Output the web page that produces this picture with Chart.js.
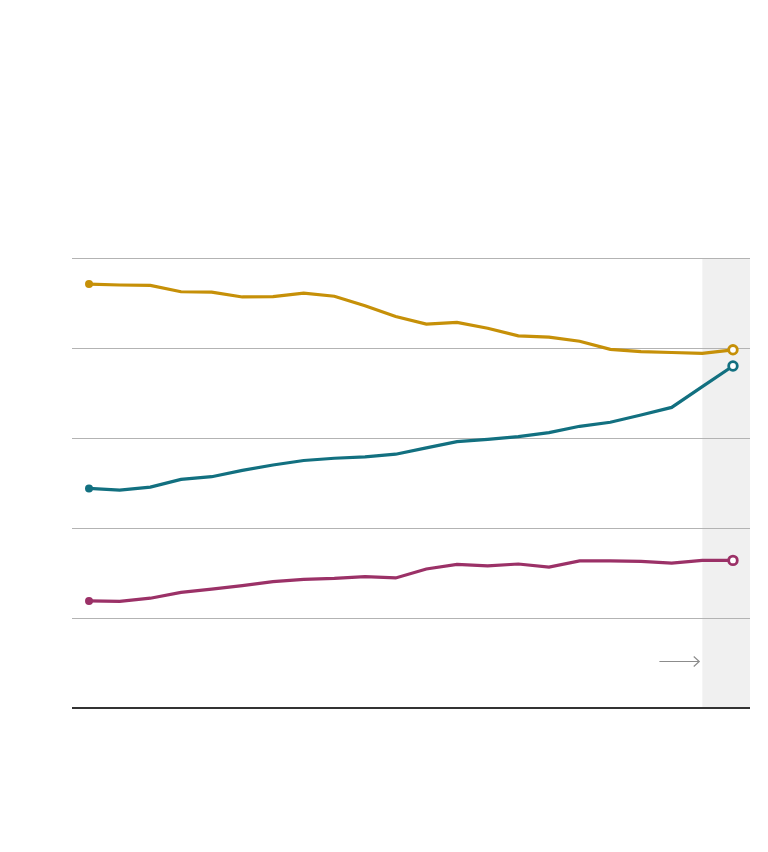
<!DOCTYPE html>
<html>
<head>
<meta charset="utf-8">
<script src="https://cdn.jsdelivr.net/npm/chart.js@4/dist/chart.umd.min.js"></script>
<style>
  html, body { margin: 0; padding: 0; background: #fff; }
  #wrap { width: 768px; height: 852px; position: relative; }
</style>
</head>
<body>
<div id="wrap"><canvas id="grafico"></canvas></div>
<script>
// Posiciones de los periodos (el último, sombreado, es la estimación)
const periodos = [0, 1, 2, 3, 4, 5, 6, 7, 8, 9, 10, 11, 12, 13, 14, 15, 16, 17, 18, 19, 20, 21];

// Valores
const serieOro = [47.1, 47.0, 46.95, 46.25, 46.2, 45.67, 45.7, 46.1, 45.75, 44.7, 43.5, 42.65, 42.85, 42.2, 41.35, 41.2, 40.75, 39.85, 39.6, 39.5, 39.4, 39.8];
const serieAzul = [24.4, 24.2, 24.55, 25.4, 25.7, 26.4, 27.0, 27.5, 27.75, 27.9, 28.2, 28.9, 29.6, 29.85, 30.15, 30.6, 31.3, 31.75, 32.55, 33.4, 35.7, 38.0];
const serieMagenta = [11.9, 11.85, 12.2, 12.85, 13.2, 13.6, 14.05, 14.3, 14.4, 14.6, 14.45, 15.45, 15.95, 15.8, 16.0, 15.65, 16.35, 16.35, 16.3, 16.1, 16.4, 16.4];

// Marcas del eje y (sólo líneas de cuadrícula, sin texto)
const marcasY = [0, 10, 20, 30, 40, 50];
const inicioEstimacion = 20;

const colores = {
    oro: 'rgb(198, 144, 8)',
    azul: 'rgb(18, 112, 128)',
    magenta: 'rgb(155, 49, 103)'
};

function crearSerie(valores, color) {
    const ultimo = valores.length - 1;
    return {
        data: valores.map((v, i) => ({ x: periodos[i], y: v })),
        borderColor: color,
        borderWidth: 3.2,
        tension: 0,
        pointRadius: valores.map((v, i) => i === 0 ? 4 : (i === ultimo ? 4.3 : 0)),
        pointBackgroundColor: valores.map((v, i) => i === ultimo ? '#ffffff' : color),
        pointBorderColor: color,
        pointBorderWidth: valores.map((v, i) => i === ultimo ? 2.8 : 0),
        pointHoverRadius: 0
    };
}

// Fondo sombreado, cuadrícula y flecha
const decoracion = {
    id: 'decoracion',
    beforeDatasetsDraw(chart) {
        const { ctx, chartArea, scales } = chart;
        const x = scales.x, y = scales.y;
        ctx.save();
        // franja de estimación
        const xBand = x.getPixelForValue(inicioEstimacion);
        ctx.fillStyle = '#f0f0f0';
        ctx.fillRect(xBand, chartArea.top, chartArea.right - xBand, chartArea.bottom - chartArea.top);
        // cuadrícula
        ctx.strokeStyle = '#b3b3b3';
        ctx.lineWidth = 1;
        marcasY.forEach(m => {
            if (m === 0) return;
            const py = Math.round(y.getPixelForValue(m)) + 0.5;
            ctx.beginPath();
            ctx.moveTo(chartArea.left, py);
            ctx.lineTo(chartArea.right, py);
            ctx.stroke();
        });
        // flecha
        const ay = Math.round(y.getPixelForValue(5.2)) + 0.5;
        const ax0 = x.getPixelForValue(18.6);
        const ax1 = x.getPixelForValue(19.9);
        ctx.strokeStyle = '#8c8c8c';
        ctx.lineWidth = 1.2;
        ctx.beginPath();
        ctx.moveTo(ax0, ay);
        ctx.lineTo(ax1, ay);
        ctx.moveTo(ax1 - 5.5, ay - 5);
        ctx.lineTo(ax1, ay);
        ctx.lineTo(ax1 - 5.5, ay + 5);
        ctx.stroke();
        ctx.restore();
    },
    afterDatasetsDraw(chart) {
        const { ctx, chartArea, scales } = chart;
        const py = scales.y.getPixelForValue(0);
        ctx.save();
        ctx.strokeStyle = '#333333';
        ctx.lineWidth = 2;
        ctx.beginPath();
        ctx.moveTo(chartArea.left, py);
        ctx.lineTo(chartArea.right, py);
        ctx.stroke();
        ctx.restore();
    }
};

function renderizarGrafico() {
    const config = {
        type: 'line',
        data: {
            datasets: [
                crearSerie(serieOro, colores.oro),
                crearSerie(serieAzul, colores.azul),
                crearSerie(serieMagenta, colores.magenta)
            ]
        },
        options: {
            responsive: true,
            maintainAspectRatio: false,
            animation: false,
            devicePixelRatio: 1,
            layout: {
                padding: { left: 72, right: 18, top: 258, bottom: 144 }
            },
            plugins: {
                legend: { display: false },
                tooltip: { enabled: false }
            },
            scales: {
                x: {
                    type: 'linear',
                    display: false,
                    min: -0.555,
                    max: 21.555
                },
                y: {
                    display: false,
                    min: marcasY[0],
                    max: marcasY[marcasY.length - 1]
                }
            }
        },
        plugins: [decoracion]
    };

    const ctx = document.getElementById('grafico').getContext('2d');
    new Chart(ctx, config);
}

renderizarGrafico();
</script>
</body>
</html>
